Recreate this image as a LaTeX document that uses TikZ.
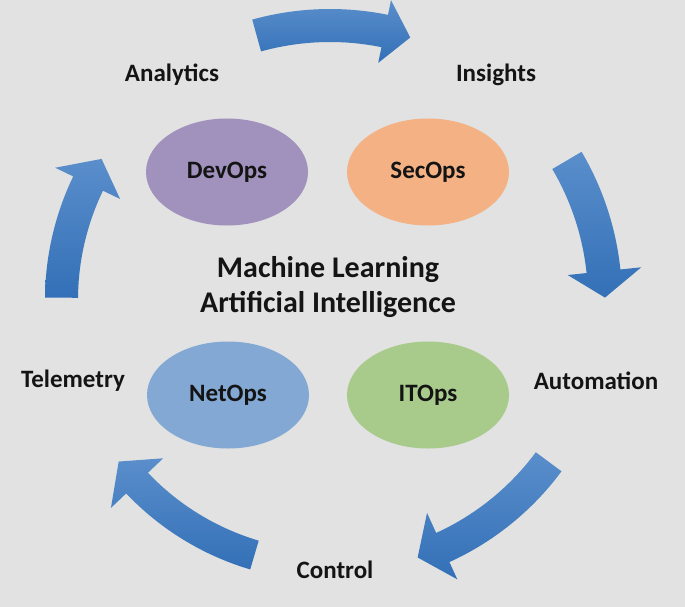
\documentclass[tikz,border=0pt]{standalone}
\usepackage{fontspec}
\setmainfont{Carlito}
\usetikzlibrary{shapes.geometric}
\definecolor{bg}{HTML}{E1E2E1}
\definecolor{arrowtop}{HTML}{5A8ECB}
\definecolor{arrowbot}{HTML}{3370B7}
\definecolor{devc}{HTML}{A192BD}
\definecolor{secc}{HTML}{F4B284}
\definecolor{netc}{HTML}{83A8D3}
\definecolor{itc}{HTML}{A8CB8C}
\definecolor{txt}{HTML}{141414}
\tikzset{
  opsnode/.style={ellipse, minimum width=162pt, minimum height=107pt, inner sep=0pt,
    font=\fontsize{25}{30}\selectfont\bfseries, text=txt},
  labelnode/.style={font=\fontsize{25}{30}\selectfont\bfseries, text=txt, inner sep=0pt},
  bigarrow/.style={top color=arrowtop, bottom color=arrowbot, draw=none},
}
% #1 start angle, #2 head-base angle, #3 tip angle, #4 inner r, #5 outer r, #6 head inner r, #7 head outer r
\newcommand{\ringarrow}[7]{%
  \path[bigarrow] (#1:#5) arc[start angle=#1, end angle=#2, radius=#5] -- (#2:#7)
    -- (#3:{(#4+#5)/2}) -- (#2:#6) -- (#2:#4) arc[start angle=#2, end angle=#1, radius=#4] -- cycle;}
\begin{document}
\begin{tikzpicture}[x=1pt,y=-1pt]
\fill[bg] (0,0) rectangle (685,607);
\useasboundingbox (0,0) rectangle (685,607);

% ellipses
\node[opsnode, fill=devc] (dev) at (227,172) {DevOps};
\node[opsnode, fill=secc] (sec) at (428,172) {SecOps};
\node[opsnode, fill=netc] (net) at (228,395) {NetOps};
\node[opsnode, fill=itc]  (it)  at (428,395) {ITOps};

% centre text
\node[font=\fontsize{30}{35}\selectfont\bfseries, text=txt, align=center, inner sep=0pt] (ml) at (328,287)
  {Machine Learning\\Artificial Intelligence};

% labels
\node[labelnode] (ana) at (172,75) {Analytics};
\node[labelnode] (ins) at (496,75) {Insights};
\node[labelnode] (tel) at (73,381) {Telemetry};
\node[labelnode] (aut) at (596,381) {Automation};
\node[labelnode] (con) at (335,570) {Control};

% cycle arrows around (330,300)
\begin{scope}[shift={(330,300)}, y=1pt]
  \ringarrow{105.5}{78.5}{73}{258}{291}{242}{306}
  \ringarrow{30.5}{6}{0.5}{258}{292}{239}{313}
  \ringarrow{-36.5}{-65.5}{-71.2}{256}{288}{234}{307}
  \ringarrow{-106.5}{-136.5}{-142.6}{251}{281}{230}{302}
  \ringarrow{179.5}{154.3}{148.3}{252}{285}{233}{305}
\end{scope}
\end{tikzpicture}
\end{document}
